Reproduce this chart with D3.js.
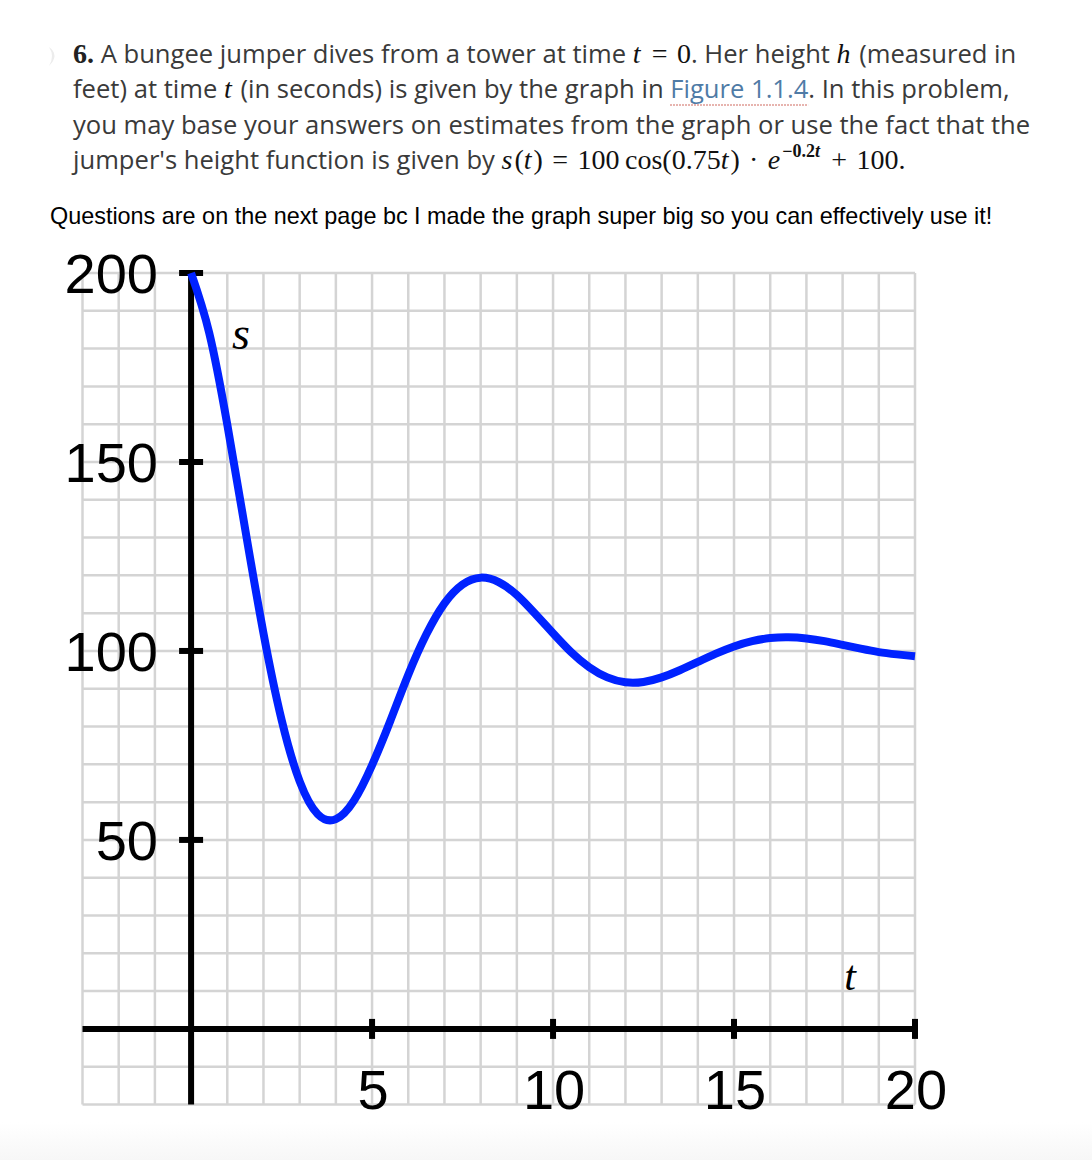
<!DOCTYPE html>
<html>
<head>
<meta charset="utf-8">
<script src="https://cdn.jsdelivr.net/npm/d3@7/dist/d3.min.js"></script>
<style>
html,body{margin:0;padding:0;background:#fff;}
svg{display:block;}
</style>
</head>
<body>
<svg id="chart" width="1092" height="1160"></svg>
<script>
// ---- data ----
const tValues = [0,0.5,1,1.5,2,2.5,3,3.5,4,4.5,5,5.5,6,6.5,7,7.5,8,8.5,9,9.5,10,10.5,11,11.5,12,12.5,13,13.5,14,14.5,15,15.5,16,16.5,17,17.5,18,18.5,19,19.5,20];
const sValues = [200,184.2,159.9,131.9,104.7,81.8,65.5,56.8,55.5,60.4,69.8,81.4,93.7,104.4,112.6,117.6,119.4,118.2,114.8,109.9,104.7,99.7,95.7,93.0,91.7,91.8,93.0,94.9,97.1,99.3,101.2,102.6,103.4,103.6,103.3,102.6,101.6,100.6,99.7,99.1,98.6];
const xTickValues = [5,10,15,20];
const yTickValues = [50,100,150,200];
const xDomain = [-3,20];
const yDomain = [-20,200];

const svg = d3.select("#chart");

// subtle bottom shading
const defs = svg.append("defs");
const grad = defs.append("linearGradient").attr("id","bot").attr("x1",0).attr("x2",0).attr("y1",0).attr("y2",1);
grad.append("stop").attr("offset","0%").attr("stop-color","#ffffff");
grad.append("stop").attr("offset","100%").attr("stop-color","#f7f7f7");
svg.append("rect").attr("x",0).attr("y",1122).attr("width",1092).attr("height",38).attr("fill","url(#bot)");

// faint icon left of the question number
svg.append("path").attr("d","M49,47 Q60,55 49,66 Q55,56 49,47 Z").attr("fill","#ececec");

// ---- header text ----
const serif = "'Liberation Serif','DejaVu Serif',serif";
const sans = "'Open Sans','Noto Sans',sans-serif";
const txtColor = "#3a3a3a";
const fs = 25.6;
const ms = 28;
const M = "#111";
const sp = "\u2004"; // wider math spacing
const lines = [
  [{t:"6.",f:serif,w:"bold",c:"#222",s:28},{t:" A bungee jumper dives from a tower at time "},{t:"t",f:serif,i:1,c:M,s:ms},{t:sp+"="+sp+"0",f:serif,c:M,s:ms},{t:". Her height "},{t:"h",f:serif,i:1,c:M,s:ms},{t:" (measured in"}],
  [{t:"feet) at time "},{t:"t",f:serif,i:1,c:M,s:ms},{t:" (in seconds) is given by the graph in "},{t:"Figure 1.1.4",c:"#4f7ba6",link:1},{t:". In this problem,"}],
  [{t:"you may base your answers on estimates from the graph or use the fact that the"}],
  [{t:"jumper's height function is given by "},{t:"s",f:serif,i:1,c:M,s:ms},{t:"(",f:serif,c:M,s:ms},{t:"t",f:serif,i:1,c:M,s:ms},{t:")"+sp+"="+sp+"100"+"\u2009"+"cos(0.75",f:serif,c:M,s:ms},{t:"t",f:serif,i:1,c:M,s:ms},{t:")"+sp+"·"+sp,f:serif,c:M,s:ms},{t:"e",f:serif,i:1,c:M,s:ms},{t:"−0.2",f:serif,c:M,sup:1,w:"bold",s:18},{t:"t",f:serif,i:1,c:M,sup:1,w:"bold",s:18},{t:sp+"+"+sp+"100.",f:serif,c:M,s:ms}]
];
const baselines = [63,98,134,169];
lines.forEach((ln,li)=>{
  let x = 73;
  ln.forEach(seg=>{
    const size = seg.s || fs;
    const y = baselines[li] - (seg.sup ? 12 : 0);
    const el = svg.append("text")
      .attr("x",x).attr("y",y)
      .attr("font-family",seg.f||sans)
      .attr("font-size",size)
      .attr("font-weight",seg.w||"normal")
      .attr("font-style",seg.i?"italic":"normal")
      .attr("fill",seg.c||txtColor)
      .style("white-space","pre")
      .attr("xml:space","preserve")
      .text(seg.t);
    const w = el.node().getComputedTextLength();
    if(seg.link){
      svg.append("line").attr("x1",x).attr("x2",x+w).attr("y1",baselines[li]+7).attr("y2",baselines[li]+7)
        .attr("stroke","#c0392b").attr("stroke-width",1.2).attr("stroke-dasharray","1.5,1.5");
    }
    x += w + (seg.i ? 2 : 0);
  });
});

svg.append("text").attr("x",50).attr("y",224)
  .attr("font-family","'Liberation Sans',Arial,sans-serif").attr("font-size",23.4)
  .attr("fill","#000")
  .text("Questions are on the next page bc I made the graph super big so you can effectively use it!");

// ---- chart ----
const x = d3.scaleLinear().domain(xDomain).range([82.5,915]);
const y = d3.scaleLinear().domain(yDomain).range([1104.5,273]);

const grid = svg.append("g").attr("stroke","#d4d4d4").attr("stroke-width",2.5);
grid.selectAll("line.v").data(d3.range(xDomain[0],xDomain[1]+1,1)).join("line")
  .attr("x1",d=>x(d)).attr("x2",d=>x(d)).attr("y1",y(yDomain[0])).attr("y2",y(yDomain[1]));
grid.selectAll("line.h").data(d3.range(yDomain[0],yDomain[1]+1,10)).join("line")
  .attr("x1",x(xDomain[0])).attr("x2",x(xDomain[1])).attr("y1",d=>y(d)).attr("y2",d=>y(d));

// axes
const ax = svg.append("g").attr("stroke","#000").attr("stroke-width",6);
ax.append("line").attr("x1",x(xDomain[0])).attr("x2",x(20)+3).attr("y1",y(0)).attr("y2",y(0));
ax.append("line").attr("x1",x(0)).attr("x2",x(0)).attr("y1",y(200)).attr("y2",y(yDomain[0]));
ax.selectAll("line.xt").data(xTickValues).join("line")
  .attr("x1",d=>x(d)).attr("x2",d=>x(d)).attr("y1",y(0)-10).attr("y2",y(0)+10);
ax.selectAll("line.yt").data(yTickValues).join("line")
  .attr("x1",x(0)-12).attr("x2",x(0)+12).attr("y1",d=>y(d)).attr("y2",d=>y(d));

const labFont = "'Liberation Sans','DejaVu Sans',sans-serif";
svg.selectAll("text.yl").data(yTickValues).join("text")
  .attr("x",158).attr("y",d=>y(d)+20)
  .attr("text-anchor","end").attr("font-family",labFont).attr("font-size",56).attr("fill","#000")
  .text(d=>d);
svg.selectAll("text.xl").data(xTickValues).join("text")
  .attr("x",d=>x(d)+1).attr("y",1109)
  .attr("text-anchor","middle").attr("font-family",labFont).attr("font-size",56).attr("fill","#000")
  .text(d=>d);

// axis names
svg.append("text").attr("x",241).attr("y",349).attr("text-anchor","middle")
  .attr("font-family",serif).attr("font-style","italic").attr("font-size",46).attr("fill","#000").text("s");
svg.append("text").attr("x",850).attr("y",990).attr("text-anchor","middle")
  .attr("font-family",serif).attr("font-style","italic").attr("font-size",42).attr("fill","#000").text("t");

// curve
const pts = tValues.map((t,i)=>[t,sValues[i]]);
const line = d3.line().x(d=>x(d[0])).y(d=>y(d[1])).curve(d3.curveNatural);
svg.append("path").datum(pts).attr("d",line)
  .attr("fill","none").attr("stroke","#0022ff").attr("stroke-width",8).attr("stroke-linecap","butt");
</script>
</body>
</html>
